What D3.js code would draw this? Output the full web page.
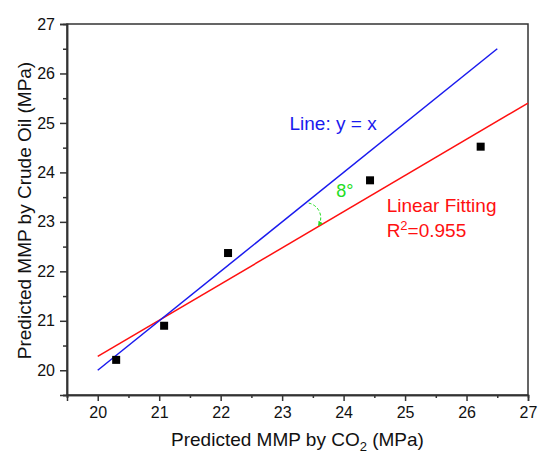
<!DOCTYPE html>
<html>
<head>
<meta charset="utf-8">
<script src="https://cdn.jsdelivr.net/npm/d3@7"></script>
<style>
  body { margin: 0; background: #fff; }
  text { font-family: "Liberation Sans", Arial, sans-serif; }
</style>
</head>
<body>
<div id="chart"></div>
<script>
// measured points (MPa)
var co2Mmp = [20.30, 21.08, 22.12, 24.43, 26.23];
var oilMmp = [20.21, 20.90, 22.37, 23.84, 24.52];

// reference line y = x and the linear fit, as end points
var idX = [20, 26.5];
var idY = [20, 26.5];
var fitX = [20, 27];
var fitY = [20.28, 25.40];

var xTicks = [20, 21, 22, 23, 24, 25, 26, 27];
var yTicks = [20, 21, 22, 23, 24, 25, 26, 27];
var minorTicks = [19.5, 20.5, 21.5, 22.5, 23.5, 24.5, 25.5, 26.5];

var W = 550, H = 464;
var pLeft = 67, pRight = 528, pTop = 24, pBottom = 395;

var svg = d3.select("#chart").append("svg")
  .attr("width", W).attr("height", H);

var x = d3.scaleLinear().domain([19.5, 27]).range([pLeft, pRight]);
var y = d3.scaleLinear().domain([19.5, 27]).range([pBottom, pTop]);

// arrow marker for the angle arc
svg.append("defs").append("marker")
  .attr("id", "arr")
  .attr("viewBox", "0 0 10 10")
  .attr("refX", 8).attr("refY", 5)
  .attr("markerWidth", 5).attr("markerHeight", 5)
  .attr("orient", "auto")
  .append("path")
  .attr("d", "M0,0 L10,5 L0,10 z")
  .attr("fill", "#22dd22");

// frame
svg.append("rect")
  .attr("x", pLeft).attr("y", pTop)
  .attr("width", pRight - pLeft).attr("height", pBottom - pTop)
  .attr("fill", "none").attr("stroke", "#333").attr("stroke-width", 1.5);

// axes
svg.append("g").attr("transform", "translate(0," + pBottom + ")")
  .call(d3.axisBottom(x).tickValues(xTicks).tickSize(6).tickPadding(6).tickFormat(d3.format("d")));
svg.append("g").attr("transform", "translate(0," + pBottom + ")")
  .call(d3.axisBottom(x).tickValues(minorTicks).tickSize(3).tickFormat(""));
svg.append("g").attr("transform", "translate(" + pLeft + ",0)")
  .call(d3.axisLeft(y).tickValues(yTicks).tickSize(7).tickPadding(5).tickFormat(d3.format("d")));
svg.append("g").attr("transform", "translate(" + pLeft + ",0)")
  .call(d3.axisLeft(y).tickValues(minorTicks).tickSize(4).tickFormat(""));

svg.selectAll(".domain").attr("stroke", "#333").attr("stroke-width", 1.5);
svg.selectAll(".tick line").attr("stroke", "#333").attr("stroke-width", 1.5);
svg.selectAll(".tick text").attr("font-size", 16).attr("fill", "#111")
  .style("font-family", "'Liberation Sans', Arial, sans-serif");

// lines
var line = d3.line().x(function(d) { return x(d[0]); }).y(function(d) { return y(d[1]); });

svg.append("path")
  .datum(d3.zip(fitX, fitY))
  .attr("d", line)
  .attr("fill", "none").attr("stroke", "#ff1010").attr("stroke-width", 1.5);

svg.append("path")
  .datum(d3.zip(idX, idY))
  .attr("d", line)
  .attr("fill", "none").attr("stroke", "#1a1aee").attr("stroke-width", 1.5);

// points
var sq = 8;
svg.selectAll("rect.pt")
  .data(d3.zip(co2Mmp, oilMmp))
  .enter()
  .append("rect")
  .attr("class", "pt")
  .attr("x", function(d) { return x(d[0]) - sq / 2; })
  .attr("y", function(d) { return y(d[1]) - sq / 2; })
  .attr("width", sq).attr("height", sq)
  .attr("fill", "#000");

// small curved arrow from the blue line to the red one
var fitSlope = (fitY[1] - fitY[0]) / (fitX[1] - fitX[0]);
var cx0 = (fitY[0] - fitSlope * fitX[0]) / (1 - fitSlope);
var cxp = x(cx0), cyp = y(cx0);
var aBlue = Math.atan2(y(idY[1]) - y(idY[0]), x(idX[1]) - x(idX[0]));
var aRed = Math.atan2(y(fitY[1]) - y(fitY[0]), x(fitX[1]) - x(fitX[0]));
var rr = 186;
var x1 = cxp + rr * Math.cos(aBlue) + 2, y1 = cyp + rr * Math.sin(aBlue) + 1;
var x2 = cxp + (rr - 4) * Math.cos(aRed), y2 = cyp + (rr - 4) * Math.sin(aRed) - 1;
svg.append("path")
  .attr("d", "M" + x1 + "," + y1 + " A15,15 0 0 1 " + x2 + "," + y2)
  .attr("fill", "none").attr("stroke", "#22dd22").attr("stroke-width", 1)
  .attr("stroke-dasharray", "3,2")
  .attr("marker-end", "url(#arr)");

// annotations
svg.append("text").attr("x", x(23.12)).attr("y", y(24.85))
  .attr("font-size", 19).attr("fill", "#1a1aee").text("Line: y = x");
svg.append("text").attr("x", x(23.88)).attr("y", y(23.50))
  .attr("font-size", 18).attr("fill", "#22dd22").text("8°");
svg.append("text").attr("x", x(24.70)).attr("y", y(23.19))
  .attr("font-size", 19).attr("fill", "#ff1010").text("Linear Fitting");
var r2 = svg.append("text").attr("x", x(24.70)).attr("y", y(22.69))
  .attr("font-size", 19).attr("fill", "#ff1010");
r2.append("tspan").text("R");
r2.append("tspan").attr("dy", -7).attr("font-size", 13).text("2");
r2.append("tspan").attr("dy", 7).text("=0.955");

// axis titles
var xt = svg.append("text").attr("x", (pLeft + pRight) / 2).attr("y", 446)
  .attr("text-anchor", "middle").attr("font-size", 19).attr("fill", "#111");
xt.append("tspan").text("Predicted MMP by CO");
xt.append("tspan").attr("dy", 5).attr("font-size", 13).text("2");
xt.append("tspan").attr("dy", -5).text(" (MPa)");

svg.append("text")
  .attr("transform", "translate(31," + ((pTop + pBottom) / 2 + 1) + ") rotate(-90)")
  .attr("text-anchor", "middle").attr("font-size", 19).attr("fill", "#111")
  .text("Predicted MMP by Crude Oil (MPa)");
</script>
</body>
</html>
